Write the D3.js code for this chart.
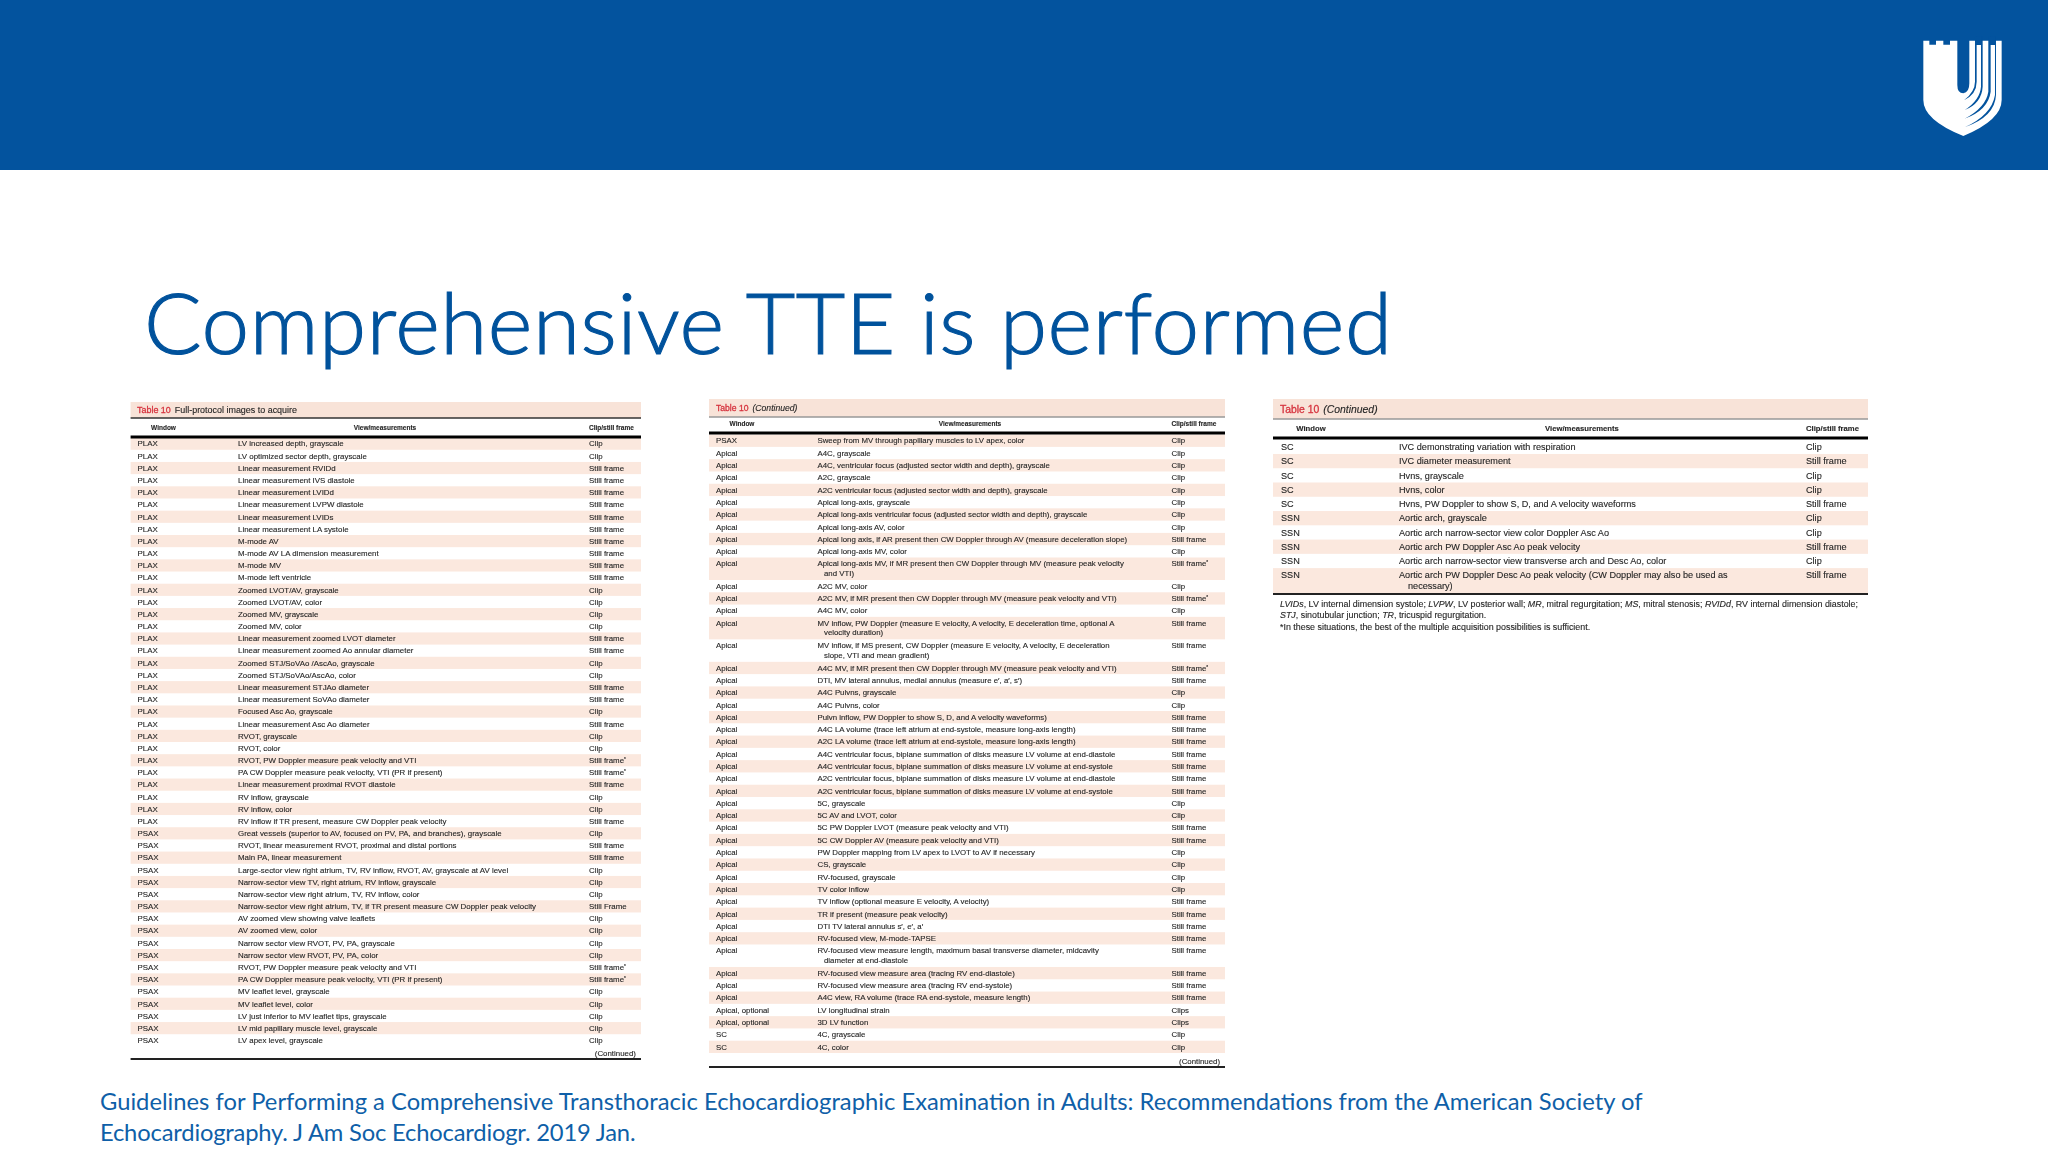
<!doctype html>
<html lang="en">
<head>
<meta charset="utf-8">
<title>Comprehensive TTE is performed</title>
<script src="https://d3js.org/d3.v7.min.js"></script>
<style>
  html, body { margin: 0; padding: 0; background: #fff; }
  svg { display: block; }
  .tbl text { font-family: "Liberation Sans", Arial, sans-serif; fill: #262626; stroke: #262626; stroke-width: 0.12px; }
  .tbl { filter: blur(0.4px); }
</style>
</head>
<body>
<svg id="slide" width="2048" height="1152"></svg>
<script>
// table contents. "\n" = wrapped line, trailing * = footnote mark
var headers = ["Window", "View/measurements", "Clip/still frame"];

var windows1 = ["PLAX","PLAX","PLAX","PLAX","PLAX","PLAX","PLAX","PLAX","PLAX","PLAX","PLAX","PLAX","PLAX","PLAX","PLAX","PLAX","PLAX","PLAX","PLAX","PLAX","PLAX","PLAX","PLAX","PLAX","PLAX","PLAX","PLAX","PLAX","PLAX","PLAX","PLAX","PLAX",
  "PSAX","PSAX","PSAX","PSAX","PSAX","PSAX","PSAX","PSAX","PSAX","PSAX","PSAX","PSAX","PSAX","PSAX","PSAX","PSAX","PSAX","PSAX"];
var views1 = [
  "LV increased depth, grayscale",
  "LV optimized sector depth, grayscale",
  "Linear measurement RVIDd",
  "Linear measurement IVS diastole",
  "Linear measurement LVIDd",
  "Linear measurement LVPW diastole",
  "Linear measurement LVIDs",
  "Linear measurement LA systole",
  "M-mode AV",
  "M-mode AV LA dimension measurement",
  "M-mode MV",
  "M-mode left ventricle",
  "Zoomed LVOT/AV, grayscale",
  "Zoomed LVOT/AV, color",
  "Zoomed MV, grayscale",
  "Zoomed MV, color",
  "Linear measurement zoomed LVOT diameter",
  "Linear measurement zoomed Ao annular diameter",
  "Zoomed STJ/SoVAo /AscAo, grayscale",
  "Zoomed STJ/SoVAo/AscAo, color",
  "Linear measurement STJAo diameter",
  "Linear measurement SoVAo diameter",
  "Focused Asc Ao, grayscale",
  "Linear measurement Asc Ao diameter",
  "RVOT, grayscale",
  "RVOT, color",
  "RVOT, PW Doppler measure peak velocity and VTI",
  "PA CW Doppler measure peak velocity, VTI (PR if present)",
  "Linear measurement proximal RVOT diastole",
  "RV inflow, grayscale",
  "RV inflow, color",
  "RV inflow if TR present, measure CW Doppler peak velocity",
  "Great vessels (superior to AV, focused on PV, PA, and branches), grayscale",
  "RVOT, linear measurement RVOT, proximal and distal portions",
  "Main PA, linear measurement",
  "Large-sector view right atrium, TV, RV inflow, RVOT, AV, grayscale at AV level",
  "Narrow-sector view TV, right atrium, RV inflow, grayscale",
  "Narrow-sector view right atrium, TV, RV inflow, color",
  "Narrow-sector view right atrium, TV, if TR present measure CW Doppler peak velocity",
  "AV zoomed view showing valve leaflets",
  "AV zoomed view, color",
  "Narrow sector view RVOT, PV, PA, grayscale",
  "Narrow sector view RVOT, PV, PA, color",
  "RVOT, PW Doppler measure peak velocity and VTI",
  "PA CW Doppler measure peak velocity, VTI (PR if present)",
  "MV leaflet level, grayscale",
  "MV leaflet level, color",
  "LV just inferior to MV leaflet tips, grayscale",
  "LV mid papillary muscle level, grayscale",
  "LV apex level, grayscale"
];
var clips1 = ["Clip","Clip","Still frame","Still frame","Still frame","Still frame","Still frame","Still frame","Still frame","Still frame","Still frame","Still frame","Clip","Clip","Clip","Clip","Still frame","Still frame","Clip","Clip","Still frame","Still frame","Clip","Still frame","Clip","Clip","Still frame*","Still frame*","Still frame","Clip","Clip","Still frame",
  "Clip","Still frame","Still frame","Clip","Clip","Clip","Still Frame","Clip","Clip","Clip","Clip","Still frame*","Still frame*","Clip","Clip","Clip","Clip","Clip"];

var windows2 = ["PSAX","Apical","Apical","Apical","Apical","Apical","Apical","Apical","Apical","Apical","Apical","Apical","Apical","Apical","Apical","Apical","Apical","Apical","Apical","Apical","Apical","Apical","Apical","Apical","Apical","Apical","Apical","Apical","Apical","Apical","Apical","Apical","Apical","Apical","Apical","Apical","Apical","Apical","Apical","Apical","Apical","Apical","Apical","Apical, optional","Apical, optional","SC","SC"];
var views2 = [
  "Sweep from MV through papillary muscles to LV apex, color",
  "A4C, grayscale",
  "A4C, ventricular focus (adjusted sector width and depth), grayscale",
  "A2C, grayscale",
  "A2C ventricular focus (adjusted sector width and depth), grayscale",
  "Apical long-axis, grayscale",
  "Apical long-axis ventricular focus (adjusted sector width and depth), grayscale",
  "Apical long-axis AV, color",
  "Apical long axis, if AR present then CW Doppler through AV (measure deceleration slope)",
  "Apical long-axis MV, color",
  "Apical long-axis MV, if MR present then CW Doppler through MV (measure peak velocity\nand VTI)",
  "A2C MV, color",
  "A2C MV, if MR present then CW Doppler through MV (measure peak velocity and VTI)",
  "A4C MV, color",
  "MV inflow, PW Doppler (measure E velocity, A velocity, E deceleration time, optional A\nvelocity duration)",
  "MV inflow, if MS present, CW Doppler (measure E velocity, A velocity, E deceleration\nslope, VTI and mean gradient)",
  "A4C MV, if MR present then CW Doppler through MV (measure peak velocity and VTI)",
  "DTI, MV lateral annulus, medial annulus (measure e\u2032, a\u2032, s\u2032)",
  "A4C Pulvns, grayscale",
  "A4C Pulvns, color",
  "Pulvn inflow, PW Doppler to show S, D, and A velocity waveforms)",
  "A4C LA volume (trace left atrium at end-systole, measure long-axis length)",
  "A2C LA volume (trace left atrium at end-systole, measure long-axis length)",
  "A4C ventricular focus, biplane summation of disks measure LV volume at end-diastole",
  "A4C ventricular focus, biplane summation of disks measure LV volume at end-systole",
  "A2C ventricular focus, biplane summation of disks measure LV volume at end-diastole",
  "A2C ventricular focus, biplane summation of disks measure LV volume at end-systole",
  "5C, grayscale",
  "5C AV and LVOT, color",
  "5C PW Doppler LVOT (measure peak velocity and VTI)",
  "5C CW Doppler AV (measure peak velocity and VTI)",
  "PW Doppler mapping from LV apex to LVOT to AV if necessary",
  "CS, grayscale",
  "RV-focused, grayscale",
  "TV color inflow",
  "TV inflow (optional measure E velocity, A velocity)",
  "TR if present (measure peak velocity)",
  "DTI TV lateral annulus s\u2032, e\u2032, a\u2032",
  "RV-focused view, M-mode-TAPSE",
  "RV-focused view measure length, maximum basal transverse diameter, midcavity\ndiameter at end-diastole",
  "RV-focused view measure area (tracing RV end-diastole)",
  "RV-focused view measure area (tracing RV end-systole)",
  "A4C view, RA volume (trace RA end-systole, measure length)",
  "LV longitudinal strain",
  "3D LV function",
  "4C, grayscale",
  "4C, color"
];
var clips2 = ["Clip","Clip","Clip","Clip","Clip","Clip","Clip","Clip","Still frame","Clip","Still frame*","Clip","Still frame*","Clip","Still frame","Still frame","Still frame*","Still frame","Clip","Clip","Still frame","Still frame","Still frame","Still frame","Still frame","Still frame","Still frame","Clip","Clip","Still frame","Still frame","Clip","Clip","Clip","Clip","Still frame","Still frame","Still frame","Still frame","Still frame","Still frame","Still frame","Still frame","Clips","Clips","Clip","Clip"];

var windows3 = ["SC","SC","SC","SC","SC","SSN","SSN","SSN","SSN","SSN"];
var views3 = [
  "IVC demonstrating variation with respiration",
  "IVC diameter measurement",
  "Hvns, grayscale",
  "Hvns, color",
  "Hvns, PW Doppler to show S, D, and A velocity waveforms",
  "Aortic arch, grayscale",
  "Aortic arch narrow-sector view color Doppler Asc Ao",
  "Aortic arch PW Doppler Asc Ao peak velocity",
  "Aortic arch narrow-sector view transverse arch and Desc Ao, color",
  "Aortic arch PW Doppler Desc Ao peak velocity (CW Doppler may also be used as\nnecessary)"
];
var clips3 = ["Clip","Still frame","Clip","Clip","Still frame","Clip","Clip","Still frame","Clip","Still frame"];

var svg = d3.select("#slide");

// header bar
svg.append("rect").attr("width", 2048).attr("height", 170).attr("fill", "#03539e");

// logo
var logo = svg.append("g").attr("transform", "translate(1880,20) scale(0.3333)");
logo.append("path").attr("fill", "#fff")
  .attr("d", "M130,62H148V74H168V62H190V74H210V62H232V195Q232,220 250,220Q268,218 268,190V62H365V240Q365,300 250,348Q130,300 130,240Z");
logo.append("g").attr("fill", "#03539e").selectAll("path")
  .data([
    "M285,50H290V185Q290,222 252,241Q285,215 285,185Z",
    "M303,50H308V200Q305,250 254,270Q300,240 303,200Z",
    "M325,50H332V215Q325,270 254,296Q318,262 325,215Z",
    "M345,50H348V225Q345,290 254,322Q335,285 345,225Z",
    "M288,50H305V75H288Z",
    "M330,50H346V75H330Z"
  ])
  .join("path").attr("d", function(d) { return d; });

// slide title, light weight thickened a little to sit near the original's stems
svg.append("text")
  .attr("x", 144).attr("y", 354)
  .attr("font-family", "Lato, 'Open Sans', sans-serif")
  .attr("font-size", 85.4)
  .attr("font-weight", 300)
  .attr("textLength", 1248)
  .attr("fill", "#00529c")
  .attr("stroke", "#00529c")
  .attr("stroke-width", 1.1)
  .text("Comprehensive TTE is performed");

// citation
svg.append("g").attr("font-family", "Lato, 'Open Sans', sans-serif")
  .attr("font-size", 23.75).attr("fill", "#0f5fa8")
  .selectAll("text")
  .data([
    "Guidelines for Performing a Comprehensive Transthoracic Echocardiographic Examination in Adults: Recommendations from the American Society of",
    "Echocardiography. J Am Soc Echocardiogr. 2019 Jan."
  ])
  .join("text")
  .attr("x", 100)
  .attr("y", function(d, i) { return 1110 + i * 31; })
  .attr("textLength", function(d, i) { return i ? 535.5 : 1542.5; })
  .text(function(d) { return d; });

function drawTable(cfg) {
  var g = svg.append("g").attr("class", "tbl");

  var rows = cfg.views.map(function(v, i) {
    return { win: cfg.windows[i], lines: v.split("\n"), clip: cfg.clips[i], i: i };
  });
  // cumulative row height in row units, wrapped rows get cfg.wrap extra
  var u = 0;
  rows.forEach(function(r) {
    r.u0 = u;
    u += 1 + (r.lines.length - 1) * cfg.wrap;
    r.u1 = u;
  });
  var y = d3.scaleLinear().domain([0, u]).range([cfg.top, cfg.bottom]);
  var unit = y(1) - y(0);

  // title band and rules
  g.append("rect").attr("x", cfg.x0).attr("width", cfg.x1 - cfg.x0)
    .attr("y", cfg.bandTop).attr("height", cfg.bandBottom - cfg.bandTop).attr("fill", "#f8e3d8");

  // row tints
  g.append("g").selectAll("rect")
    .data(rows.filter(function(r) { return r.i % 2 === cfg.tint; }))
    .join("rect")
    .attr("x", cfg.x0).attr("width", cfg.x1 - cfg.x0)
    .attr("y", function(r) { return y(r.u0); })
    .attr("height", function(r) { return y(r.u1) - y(r.u0); })
    .attr("fill", "#fbe8de");

  g.append("line").attr("x1", cfg.x0).attr("x2", cfg.x1)
    .attr("y1", cfg.bandBottom).attr("y2", cfg.bandBottom)
    .attr("stroke", cfg.bandRule).attr("stroke-width", 1.6);
  g.append("line").attr("x1", cfg.x0).attr("x2", cfg.x1)
    .attr("y1", cfg.headRule).attr("y2", cfg.headRule)
    .attr("stroke", "#000").attr("stroke-width", 3);
  g.append("line").attr("x1", cfg.x0).attr("x2", cfg.x1)
    .attr("y1", cfg.endRule).attr("y2", cfg.endRule)
    .attr("stroke", "#222").attr("stroke-width", 2);

  // table title
  var t = g.append("text").attr("x", cfg.titleX).attr("y", (cfg.bandTop + cfg.bandBottom) / 2)
    .attr("dy", "0.35em").attr("font-size", cfg.titleSize);
  t.append("tspan").style("fill", "#d6343f").style("stroke", "#d6343f").style("stroke-width", "0.3px").text("Table 10");
  t.append("tspan").attr("dx", 4).attr("font-style", cfg.titleItalic ? "italic" : "normal").text(cfg.title);

  // column headers
  g.append("g").attr("font-size", cfg.headSize).attr("font-weight", "bold")
    .selectAll("text").data(headers).join("text")
    .attr("x", function(d, i) { return cfg.headX[i]; })
    .attr("y", cfg.headY).attr("dy", "0.35em")
    .attr("text-anchor", function(d, i) { return i < 2 ? "middle" : "start"; })
    .text(function(d) { return d; });

  // rows
  var row = g.append("g").attr("font-size", cfg.size).selectAll("g").data(rows).join("g")
    .attr("transform", function(r) { return "translate(0," + (y(r.u0) + unit / 2) + ")"; });
  row.append("text").attr("x", cfg.colX[0]).attr("dy", "0.35em")
    .text(function(r) { return r.win; });
  row.selectAll("text.view").data(function(r) { return r.lines; }).join("text")
    .attr("class", "view")
    .attr("x", function(d, i) { return i ? cfg.colX[1] + cfg.indent : cfg.colX[1]; })
    .attr("y", function(d, i) { return i * cfg.lineGap; })
    .attr("dy", "0.35em")
    .text(function(d) { return d; });
  var clip = row.append("text").attr("x", cfg.colX[2]).attr("dy", "0.35em");
  clip.append("tspan").text(function(r) { return r.clip.replace("*", ""); });
  clip.append("tspan").attr("dy", "-2").attr("font-size", cfg.size * 0.6)
    .text(function(r) { return r.clip.indexOf("*") >= 0 ? "*" : ""; });

  if (cfg.continuedY) {
    g.append("text").attr("x", cfg.x1 - 5).attr("y", cfg.continuedY).attr("dy", "0.35em")
      .attr("text-anchor", "end").attr("font-size", cfg.size).text("(Continued)");
  }
  return g;
}

drawTable({
  windows: windows1, views: views1, clips: clips1, tint: 0, wrap: 0.83, lineGap: 9.3, indent: 6.5,
  x0: 130.6, x1: 641, top: 437.6, bottom: 1046.4,
  bandTop: 402, bandBottom: 418, bandRule: "#333", headRule: 437, endRule: 1059,
  headY: 428, headX: [163.5, 385, 589], colX: [137.5, 238, 589],
  title: "Full-protocol images to acquire", titleItalic: false, titleX: 137, titleSize: 8.95,
  size: 7.9, headSize: 6.5, continuedY: 1053
});

drawTable({
  windows: windows2, views: views2, clips: clips2, tint: 0, wrap: 0.83, lineGap: 9.3, indent: 6.5,
  x0: 709, x1: 1225, top: 434.6, bottom: 1053,
  bandTop: 399, bandBottom: 417, bandRule: "#999", headRule: 433, endRule: 1067,
  headY: 424, headX: [742, 970, 1171.5], colX: [716, 817.5, 1171.5],
  title: "(Continued)", titleItalic: true, titleX: 716, titleSize: 8.6,
  size: 7.83, headSize: 6.5, continuedY: 1061.5
});

var tbl3 = drawTable({
  windows: windows3, views: views3, clips: clips3, tint: 1, wrap: 0.85, lineGap: 10.7, indent: 9,
  x0: 1273, x1: 1868, top: 439.7, bottom: 594.5,
  bandTop: 399, bandBottom: 419, bandRule: "#999", headRule: 438, endRule: 594,
  headY: 428, headX: [1311, 1582, 1806], colX: [1281, 1399, 1806],
  title: "(Continued)", titleItalic: true, titleX: 1280, titleSize: 10.4,
  size: 9.14, headSize: 7.7
});

// abbreviations under the last table: [text, italic]
var noteLine1 = [["LVIDs", 1], [", LV internal dimension systole; ", 0], ["LVPW", 1], [", LV posterior wall; ", 0], ["MR", 1], [", mitral regurgitation; ", 0], ["MS", 1], [", mitral stenosis; ", 0], ["RVIDd", 1], [", RV internal dimension diastole;", 0]];
var noteLine2 = [["STJ", 1], [", sinotubular junction; ", 0], ["TR", 1], [", tricuspid regurgitation.", 0]];
var noteLine3 = [["*In these situations, the best of the multiple acquisition possibilities is sufficient.", 0]];

[noteLine1, noteLine2, noteLine3].forEach(function(parts, i) {
  tbl3.append("text")
    .attr("x", 1280).attr("y", [604, 615, 626.7][i]).attr("dy", "0.35em")
    .attr("font-size", 8.9)
    .selectAll("tspan").data(parts).join("tspan")
    .attr("font-style", function(d) { return d[1] ? "italic" : "normal"; })
    .text(function(d) { return d[0]; });
});
</script>
</body>
</html>
